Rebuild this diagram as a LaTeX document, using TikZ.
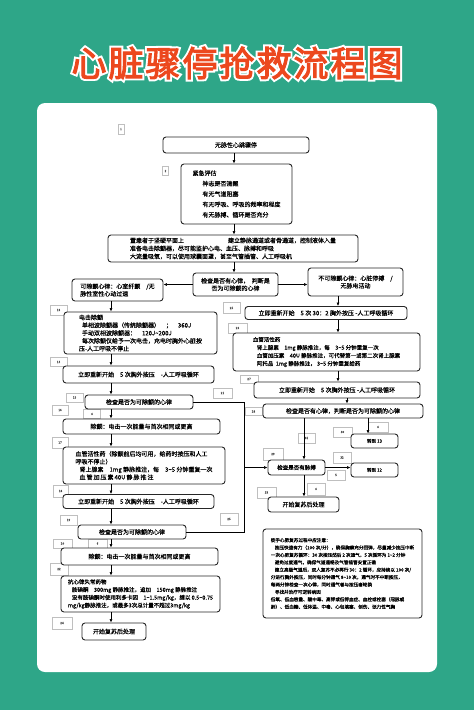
\documentclass[tikz,border=0pt]{standalone}
\usepackage{fontspec}
\newfontfamily\cjk[FakeBold=0.4]{Noto Sans CJK SC}
\newfontfamily\titlefont[FakeBold=3]{Noto Sans CJK SC}
\newfontfamily\titleedge[FakeBold=14]{Noto Sans CJK SC}
\usetikzlibrary{arrows.meta, positioning}
\definecolor{bggreen}{RGB}{46,166,136}
\definecolor{titlered}{RGB}{236,72,30}
\newcommand{\tld}{\textasciitilde}
\newcommand{\titletext}{心\kern2pt 脏\kern2pt 骤\kern2pt 停\kern2pt 抢\kern2pt 救\kern2pt 流\kern2pt 程\kern2pt 图}

\begin{document}
\begin{tikzpicture}[
  x=1pt, y=-1pt,
  box/.style={rectangle, rounded corners=3pt, draw=black!85, line width=0.9pt, fill=white, align=center, inner sep=2pt, font=\cjk\fontsize{6}{7.5}\selectfont},
  boxl/.style={box, align=left},
  tag/.style={rectangle, draw=black!25, line width=0.3pt, inner sep=0pt, text=black!70, font=\cjk\fontsize{3}{3}\selectfont},
  arr/.style={-{Latex[length=3.5pt, width=3pt]}, line width=0.6pt},
]
\useasboundingbox (0,0) rectangle (474,710);
\fill[bggreen] (0,0) rectangle (474,710);
\fill[white, rounded corners=8pt] (37,103) rectangle (437,672);

% title with white edge
\node[text=white, font=\titleedge\fontsize{35}{35}\selectfont] (titleedge) at (237,63) {\titletext};
\node[text=titlered, font=\titlefont\fontsize{35}{35}\selectfont] (title) at (237,63) {\titletext};

% small step numbers
\foreach \px/\py/\w/\h/\lab [count=\i] in {121/129/6/10/1, 165.5/171/6/9/2, 58.5/310/17/10/13, 231.5/308/17/11/25,
  237.5/328/19/10/26, 58.5/362/17/9/14, 74.5/397.5/17/9/15, 60/410/16/10/16, 92/414/17/9/6, 222.5/393/19/10/21,
  249/379/18/8/27, 253.5/411.5/17/8/28, 378/427/20/10/6, 342.5/432/19/10/30, 306.5/438/17/10/31, 60/442.5/16/11/17,
  60.5/491/15/12/18, 68.5/520/17/10/19, 229/519/18/12/25, 273/454/20/12/29, 342/457.5/18/11/32, 336/475/18/10/5,
  316/489/18/12/6, 266.5/492.5/19/11/33, 62.5/543.5/19/9/20, 97.5/543.5/19/9/6, 59/569/18/12/22, 62/623/20/12/24}
  \node[tag, minimum width=\w, minimum height=\h] (tag\i) at (\px,\py) {\lab};

% column guides
\coordinate (colM) at (234,0);
\coordinate (colL) at (111,0);
\coordinate (colR) at (338,0);
\coordinate (colS) at (347,0);
\coordinate (colP) at (304,0);
\coordinate (colG) at (368,0);
\coordinate (rail) at (244,0);

% top
\node[box, minimum width=146, minimum height=16] (start) at (236,145) {无脉性心跳骤停};
\node[boxl, minimum width=111, minimum height=60, font=\cjk\fontsize{6}{10.4}\selectfont] (assess) at (236.5,194)
  {紧急评估\\\hspace*{10pt}神志是否清醒\\\hspace*{10pt}有无气道阻塞\\\hspace*{10pt}有无呼吸、呼吸的频率和程度\\\hspace*{10pt}有无脉搏、循环是否充分};
\node[boxl, minimum width=250, minimum height=27, font=\cjk\fontsize{6}{8}\selectfont] (prep) at (233,248.5)
  {\makebox[98pt][l]{置患者于坚硬平面上}建立静脉通道或者骨通道，控制液体入量\\准备电击除颤器，尽可能监护心电、血压、脉搏和呼吸\\大流量吸氧，可以使用球囊面罩，甚至气管插管、人工呼吸机};
\node[box, minimum width=85, minimum height=23] (check) at (235.5,284.5) {检查是否有心律，\ \ 判断是\\否为可除颤的心律};
\node[boxl, minimum width=91, minimum height=22] (shock) at (117.5,290) {可除颤心律：心室纤颤\quad /无\\脉性室性心动过速};
\node[box, minimum width=95, minimum height=28] (noshock) at (355.5,282) {不可除颤心律：心脏停搏\quad /\\无脉电活动};

% left branch
\node[boxl, minimum width=153, minimum height=42, font=\cjk\fontsize{6}{7.8}\selectfont] (defib) at (140.5,333)
  {电击除颤\\\hspace*{3pt}单相波除颤器（传统除颤器）\quad ；\quad 360J\\\hspace*{3pt}手动双相波除颤器：\quad 120J\tld 200J\\\hspace*{3pt}每次除颤仅给予一次电击，充电时胸外心脏按\\压-人工呼吸不停止};
\node[box, minimum width=151, minimum height=17] (cpr1) at (138.5,374.5) {立即重新开始\quad 5 次胸外按压\quad -人工呼吸循环};
\node[box, minimum width=108, minimum height=14] (chk1) at (139,402) {检查是否为可除颤的心律};
\node[box, minimum width=157, minimum height=15] (def2) at (141.5,426.5) {除颤：电击一次能量与首次相同或更高};
\node[boxl, minimum width=162, minimum height=37, font=\cjk\fontsize{6}{7.8}\selectfont] (drug1) at (144,465.5)
  {血管活性药（除颤前后均可用，给药时按压和人工\\呼吸不停止）\\\hspace*{4pt}肾上腺素\quad 1mg 静脉推注，每\quad 3\tld 5 分钟重复一次\\\hspace*{4pt}血\,管\,加\,压\,素\,40U\,静\,脉\,推\,注};
\node[box, minimum width=151, minimum height=14] (cpr2) at (138.5,501.5) {立即重新开始\quad 5 次胸外按压\quad -人工呼吸循环};
\node[box, minimum width=108, minimum height=14] (chk2) at (132,532) {检查是否为可除颤的心律};
\node[box, minimum width=157, minimum height=17] (def3) at (139.5,556.5) {除颤：电击一次能量与首次相同或更高};
\node[boxl, minimum width=159, minimum height=36, font=\cjk\fontsize{5.5}{7.8}\selectfont] (drug2) at (140.5,594)
  {抗心律失常药物\\\hspace*{4pt}胺碘酮\quad 300mg 静脉推注，追加\quad 150mg 静脉推注\\\hspace*{4pt}没有胺碘酮时使用利多卡因\quad 1\tld 1.5mg/kg，继以 0.5\tld 0.75\\mg/kg静脉推注，或最多3次总计量不超过3mg/kg};
\node[box, minimum width=64, minimum height=17] (post1) at (114,631.5) {开始复苏后处理};

% right branch
\node[box, minimum width=162, minimum height=13] (cpr3) at (326,313) {立即重新开始\quad 5 次 30：2 胸外按压 -人工呼吸循环};
\node[boxl, minimum width=187, minimum height=38, font=\cjk\fontsize{5.5}{8}\selectfont] (drug3) at (326.5,352)
  {血管活性药\\\hspace*{4pt}肾上腺素\quad 1mg 静脉推注，每\quad 3\tld 5 分钟重复一次\\\hspace*{4pt}血管加压素\quad 40U 静脉推注，可代替第一或第二次肾上腺素\\\hspace*{4pt}阿托品\ \ 1mg 静脉推注，\ 3\tld 5 分钟重复给药};
\node[box, minimum width=166, minimum height=16] (cpr4) at (337,390) {立即重新开始\quad 5 次胸外按压 -人工呼吸循环};
\node[box, minimum width=160, minimum height=14] (chk3) at (343,411) {检查是否有心律，判断是否为可除颤的心律};
\node[box, minimum width=47, minimum height=14, font=\cjk\fontsize{4.5}{5}\selectfont] (goto13) at (374.5,441) {转到 13};
\node[box, minimum width=57, minimum height=15, font=\cjk\fontsize{5.5}{6}\selectfont] (pulse) at (296.5,467.5) {检查是否有脉搏};
\node[box, minimum width=47, minimum height=14, font=\cjk\fontsize{4.5}{5}\selectfont] (goto12) at (374.5,470) {转到 12};
\node[box, minimum width=71, minimum height=15] (post2) at (303.5,504.5) {开始复苏后处理};
\node[boxl, minimum width=159, minimum height=89, font=\cjk\fontsize{4.6}{7.4}\selectfont] (notes) at (342.5,573.5)
  {徒手心肺复苏过程中应注意：\\
   \hspace*{4pt}按压快速有力（100 次/分），确保胸廓充分回弹，尽量减少按压中断\\
   一次心肺复苏循环：30 次按压然后 2 次通气，5 次循环为 1\tld 2 分钟\\
   \hspace*{4pt}避免过度通气，确保气道通畅及气管插管安置正确\\
   \hspace*{4pt}建立高级气道后，双人复苏不必再行 30：2 循环，应持续以 100 次/\\
   分进行胸外按压，同时每分钟通气 8\tld 10 次，通气时不中断按压，\\
   每两分钟检查一次心律，同时通气者与按压者轮换\\
   \hspace*{4pt}寻找并治疗可逆转病因\\
   低氧、低血容量、酸中毒、高钾或低钾血症、血栓或栓塞（冠脉或\\
   肺）、低血糖、低体温、中毒、心包填塞、创伤、张力性气胸};

% connectors
\draw[arr] (start.south -| colM) -- (assess.north -| colM);
\draw[arr] (assess.south -| colM) -- (prep.north -| colM);
\draw[arr] (prep.south -| colM) -- (check.north -| colM);
\draw[arr] (check.west) -- (check.west -| shock.east);
\draw[arr] (check.east) -- (check.east -| noshock.west);
\foreach \a/\b in {shock/defib, defib/cpr1, cpr1/chk1, chk1/def2, def2/drug1, drug1/cpr2, cpr2/chk2, chk2/def3, def3/drug2, drug2/post1}
  \draw[arr] (\a.south -| colL) -- (\b.north -| colL);
\draw[arr] (noshock.south -| colR) -- (cpr3.north -| colR);
\draw[arr] (cpr3.south -| colR) -- (drug3.north -| colR);
\draw[arr] (drug3.south -| colR) -- (cpr4.north -| colR);
\draw[arr] (cpr4.south -| colS) -- (chk3.north -| colS);
\draw[arr] (chk3.south -| colG) -- (goto13.north -| colG);
\draw[arr] (chk3.south -| colP) -- (pulse.north -| colP);
\draw[arr] (pulse.east) -- (pulse.east -| goto12.west);
\draw[arr] (pulse.south -| colP) -- (post2.north -| colP);
\draw[line width=0.6pt] (chk1.east) -| (rail |- chk2.east) -- (chk2.east);
\draw[arr] (rail |- pulse.west) -- (pulse.west);
\end{tikzpicture}
\end{document}
